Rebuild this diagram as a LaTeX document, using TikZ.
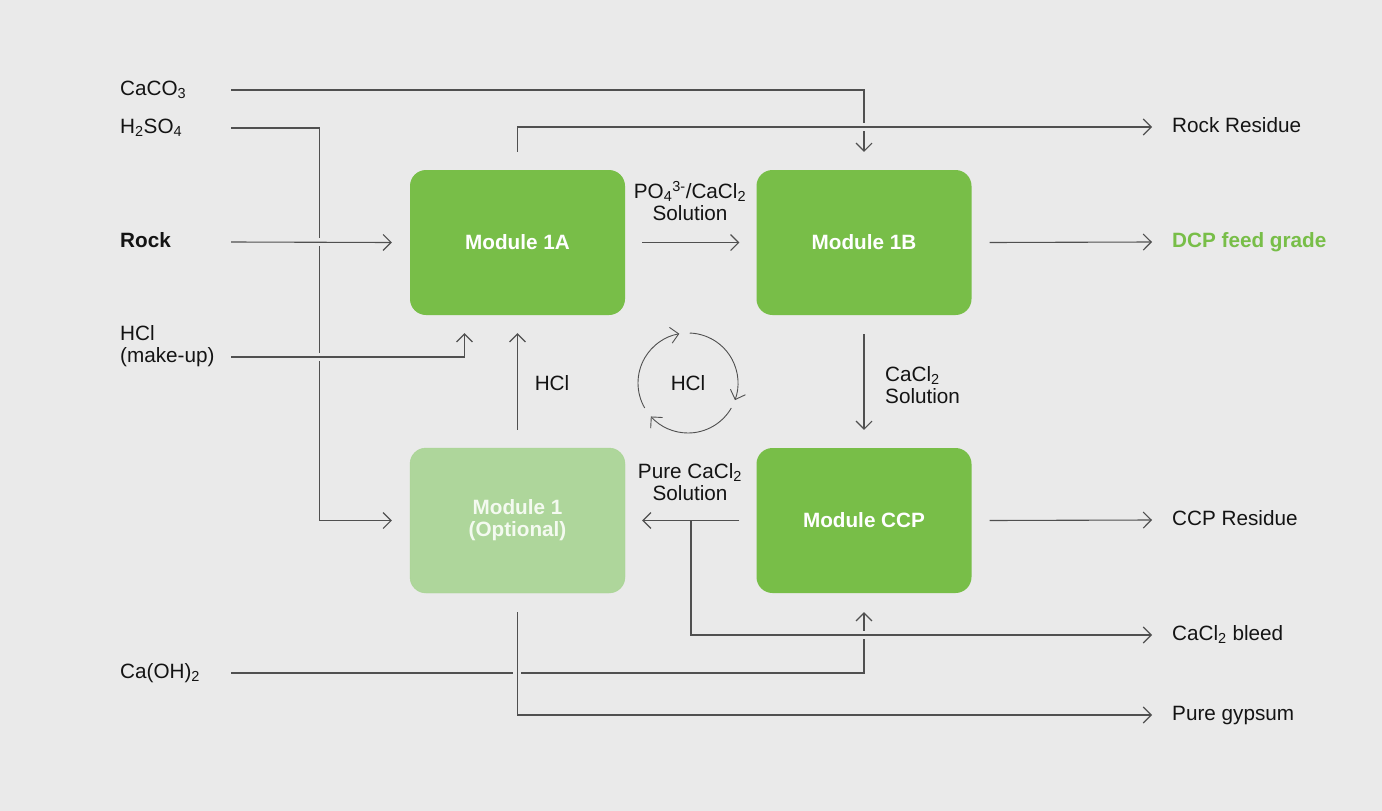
\documentclass[tikz,border=0pt]{standalone}
\usepackage{fontspec}
\setmainfont{Liberation Sans}
\usepackage{tikz}
\usetikzlibrary{calc,arrows.meta}
\definecolor{bgc}{HTML}{EAEAEA}
\definecolor{leaf}{HTML}{78BE48}
\definecolor{paleleaf}{HTML}{AED69B}
\definecolor{ink}{HTML}{141414}
\definecolor{pipe}{HTML}{505050}

\begin{document}
\begin{tikzpicture}[x=1pt,y=-1pt,
    font=\fontsize{20.7}{22}\selectfont,
    module/.style={fill=leaf,rounded corners=16pt,minimum width=215pt,minimum height=145pt,
      text=white,font=\fontsize{20.7}{22}\selectfont\bfseries,align=center},
    label/.style={text=ink,inner sep=0pt,anchor=west,align=left,text height=15pt,text depth=4pt},
    flow/.style={pipe,line width=1.1pt,-{Straight Barb[length=8pt,width=16pt]}}]
  \fill[bgc] (0,0) rectangle (1382,811);
  \useasboundingbox (0,0) rectangle (1382,811);
  \coordinate (lx) at (231,0);
  \coordinate (rx) at (1152,0);
  % modules
  \node[module] (m1a) at (517.5,242.5) {Module 1A};
  \node[module] (m1b) at (864,242.5) {Module 1B};
  \node[module,fill=paleleaf,draw=paleleaf!90!leaf,text=white!92!leaf] (m1) at (517.5,520.5) {Module 1\\(Optional)};
  \node[module] (mccp) at (864,520.5) {Module CCP};
  % feeds on the left
  \node[label] (caco3) at (120,90) {CaCO\textsubscript{3}};
  \node[label] (h2so4) at (120,128) {H\textsubscript{2}SO\textsubscript{4}};
  \node[label,font=\fontsize{20.7}{22}\selectfont\bfseries] (rock) at (120,242) {Rock};
  \node[label] (hclin) at (120,357) {HCl\\(make-up)};
  \node[label] (caoh) at (120,673) {Ca(OH)\textsubscript{2}};
  % products on the right
  \node[label] (rres) at (1172,127) {Rock Residue};
  \node[label,text=leaf,font=\fontsize{20.7}{22}\selectfont\bfseries] (dcp) at (1172,242) {DCP feed grade};
  \node[label] (ccpres) at (1172,520) {CCP Residue};
  \node[label] (bleed) at (1172,635) {CaCl\textsubscript{2} bleed};
  \node[label] (gyp) at (1172,715) {Pure gypsum};
  % stream names
  \node[text=ink,align=center,inner sep=0pt] (po4) at (690,201) {PO\textsubscript{4}\textsuperscript{3-}/CaCl\textsubscript{2}\\Solution};
  \node[text=ink,align=center,inner sep=0pt] (pure) at (690,482) {Pure CaCl\textsubscript{2}\\Solution};
  \node[text=ink,align=left,inner sep=0pt,anchor=west] (cacl) at (885,385) {CaCl\textsubscript{2}\\Solution};
  \node[text=ink,inner sep=0pt] (hclup) at (552,383) {HCl};
  \coordinate (cyc) at (688,383);
  \node[text=ink,inner sep=0pt] (hclcyc) at (cyc) {HCl};

  % lines that get broken at crossings
  \draw[flow] (lx |- h2so4.west) -| ([xshift=-90pt]m1.west) -- ([xshift=-18pt]m1.west);
  \draw[flow] (lx |- caco3.west) -| ([yshift=18pt]m1b.north);
  \draw[flow] (lx |- caoh.west) -| ([yshift=-19pt]mccp.south);
  \foreach \p in {(320,242),(320,357),(865,127),(865,635)}
    \fill[bgc] \p ++(-3,-4) rectangle ++(6,8);
  \fill[bgc] (517,673) ++(-4,-3) rectangle ++(8,6);

  % remaining streams
  \draw[flow] (lx |- rock.west) -- ([xshift=-18pt]m1a.west);
  \draw[flow] (lx |- hclin.west) -| ([xshift=-53pt,yshift=-18pt]m1a.south);
  \draw[flow] ([yshift=18pt]m1a.north) |- (rx |- rres.west);
  \draw[flow] ([xshift=17pt]m1a.east) -- ([xshift=-17pt]m1b.west);
  \draw[flow] ([xshift=18pt]m1b.east) -- (rx |- dcp.west);
  \draw[flow] ([yshift=-19pt]m1b.south) -- ([yshift=18pt]mccp.north);
  \draw[flow] ([xshift=18pt]mccp.east) -- (rx |- ccpres.west);
  \draw[flow] ([xshift=-17pt]mccp.west) -- ([xshift=17pt]m1.east);
  \coordinate (tap) at (691,520);
  \draw[flow] (tap) |- (rx |- bleed.west);
  \draw[flow] ([yshift=18pt]m1.north) -- ([yshift=-18pt]m1a.south);
  \draw[flow] ([yshift=-19pt]m1.south) |- (rx |- gyp.west);

  % HCl loop
  \draw[flow,line width=0.9pt] (cyc) ++(150:50) arc[start angle=150,end angle=260,radius=50];
  \draw[flow,line width=0.9pt] (cyc) ++(272:50) arc[start angle=272,end angle=380,radius=50];
  \draw[flow,line width=0.9pt] (cyc) ++(30:50) arc[start angle=30,end angle=138,radius=50];
\end{tikzpicture}
\end{document}
